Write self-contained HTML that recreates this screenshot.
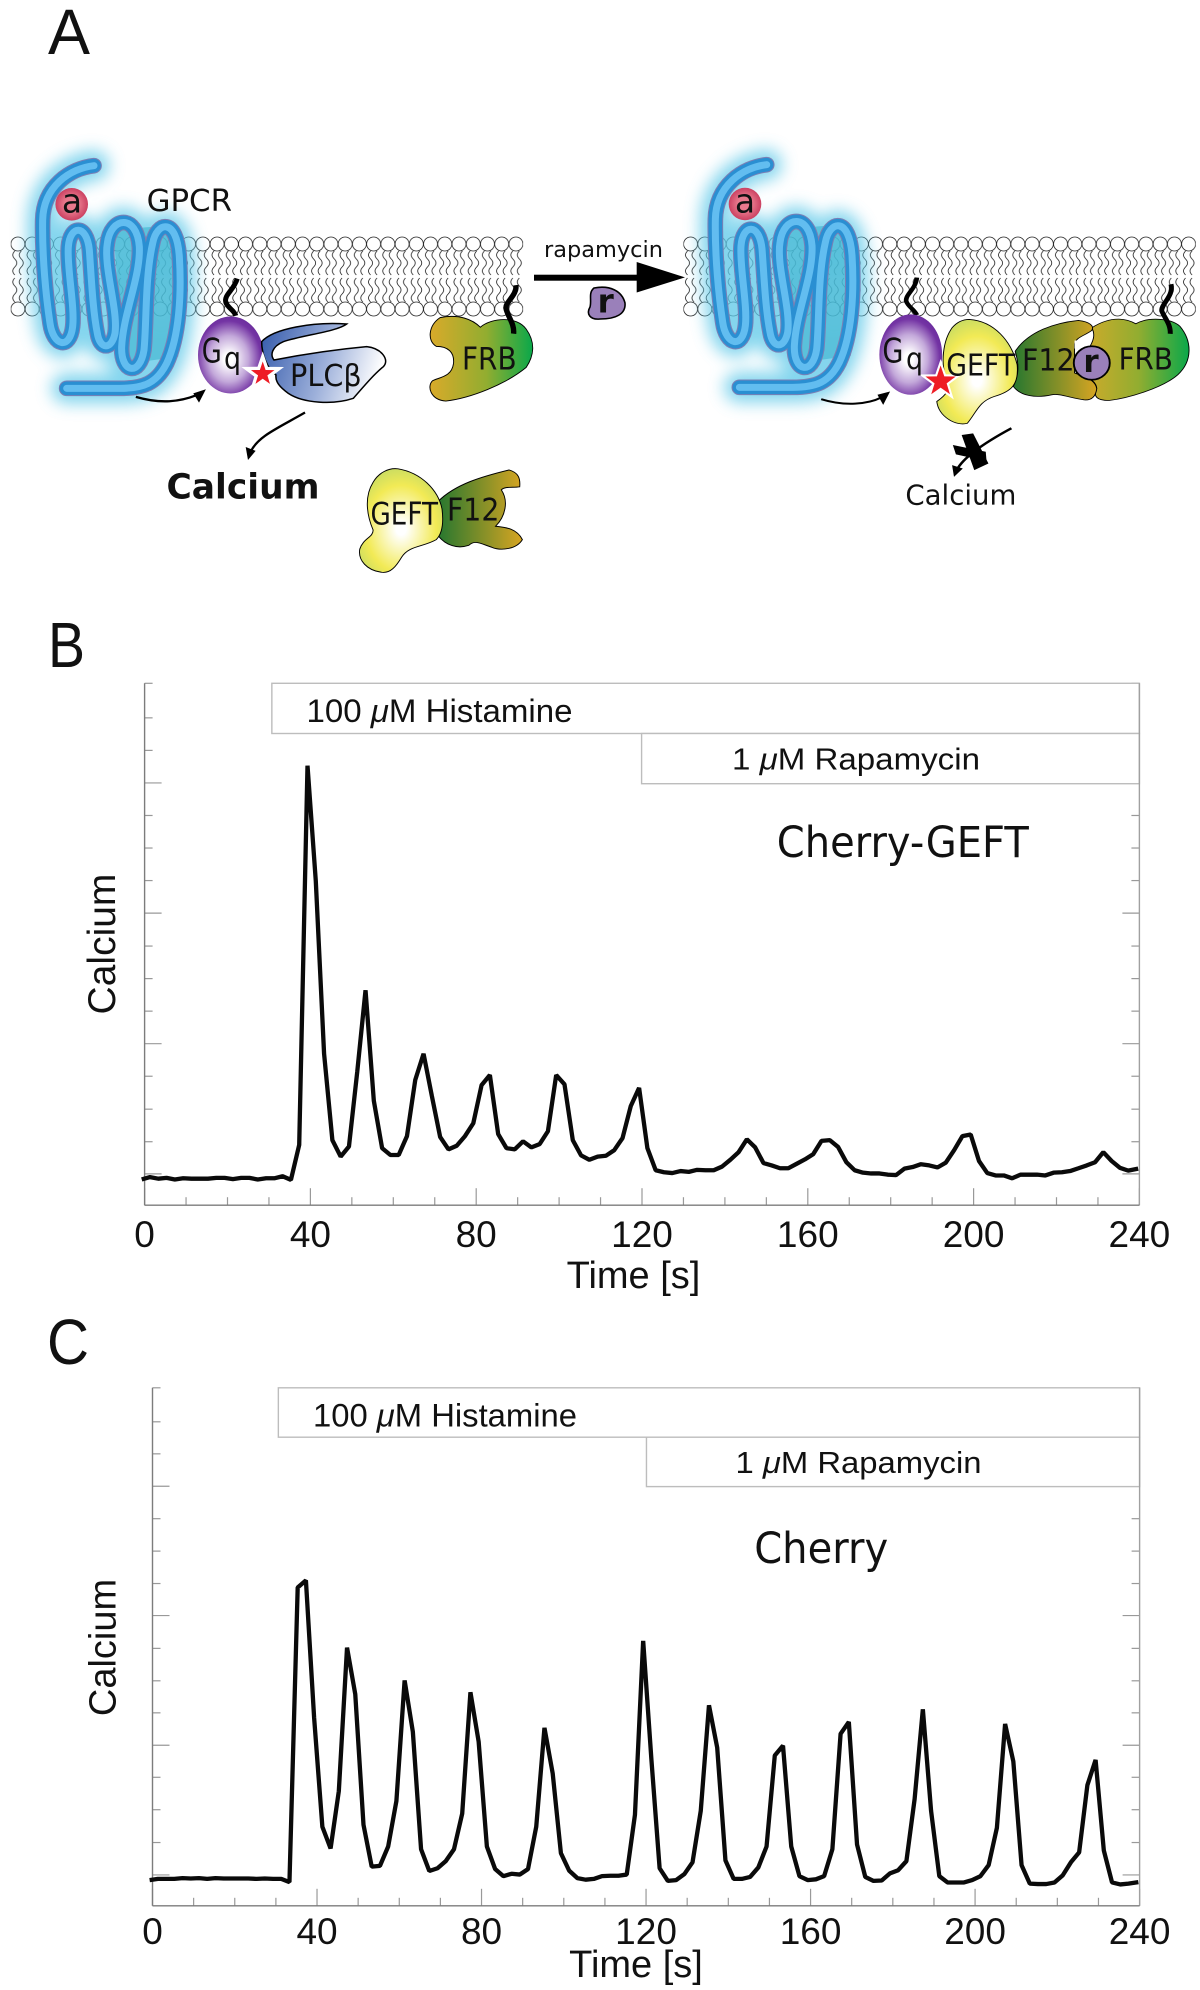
<!DOCTYPE html>
<html lang="en">
<head>
<meta charset="utf-8">
<title>Calcium signalling figure</title>
<style>
html,body{margin:0;padding:0;background:#fff;}
svg{display:block;}
text{fill:#111;}
.sans{font-family:"Liberation Sans",sans-serif;}
.dj{font-family:"DejaVu Sans","Liberation Sans",sans-serif;}
</style>
</head>
<body>
<svg id="figure" xmlns="http://www.w3.org/2000/svg" width="1200" height="1990" viewBox="0 0 1200 1990">
<defs>
  <g id="lipidTile">
    <circle cx="7.1" cy="8" r="7" fill="#fff" stroke="#222" stroke-width=".8"/>
    <circle cx="7.1" cy="73" r="7" fill="#fff" stroke="#222" stroke-width=".8"/>
    <path d="M4 15q-4 4 0 8q4 4 0 8q-4 4 0 8M10.5 15q-4 4 0 8q4 4 0 8q-4 4 0 8M4 42q-4 4 0 8q4 4 0 8q-4 4 0 8M10.5 42q-4 4 0 8q4 4 0 8q-4 4 0 8" fill="none" stroke="#222" stroke-width=".8"/>
  </g>
  <pattern id="lipid" patternUnits="userSpaceOnUse" x="10.8" y="236" width="14.23" height="82"><use href="#lipidTile"/></pattern>
  <pattern id="lipidR" patternUnits="userSpaceOnUse" x="683.5" y="236" width="14.23" height="82"><use href="#lipidTile"/></pattern>
  <filter id="glow" x="-40%" y="-40%" width="180%" height="180%"><feGaussianBlur stdDeviation="24"/></filter>
  <radialGradient id="gqFill" cx=".47" cy=".55" r=".6"><stop offset=".12" stop-color="#fff"/><stop offset=".5" stop-color="#c3a8da"/><stop offset=".82" stop-color="#7434a4"/><stop offset="1" stop-color="#672a9b"/></radialGradient>
  <linearGradient id="plcFill" x1="0" x2="1" y1=".2" y2=".4"><stop offset="0" stop-color="#3a5fae"/><stop offset=".55" stop-color="#9db0da"/><stop offset="1" stop-color="#fff"/></linearGradient>
  <linearGradient id="frbFill" x1="0" x2="1" y1="0" y2="0"><stop offset="0" stop-color="#d9aa2a"/><stop offset=".55" stop-color="#92ad30"/><stop offset="1" stop-color="#0aa84a"/></linearGradient>
  <linearGradient id="f12Fill" x1="0" x2="1" y1="0" y2="0"><stop offset="0" stop-color="#27772f"/><stop offset="1" stop-color="#d7a522"/></linearGradient>
  <radialGradient id="geftFill" cx=".5" cy=".58" r=".6"><stop offset=".1" stop-color="#fff"/><stop offset=".7" stop-color="#f2ea55"/><stop offset="1" stop-color="#c9dc62"/></radialGradient>
  <radialGradient id="ballFill" cx=".5" cy=".5" r=".55"><stop offset=".4" stop-color="#e8788c"/><stop offset="1" stop-color="#c6375a"/></radialGradient>
  <path id="gpcrTube" fill="none" stroke-linecap="round" d="M222,47 C150,55 70,110 68,210 C66,320 78,440 90,520 C100,590 150,600 158,530 C165,470 140,350 145,290 C150,225 200,220 208,300 C214,380 218,480 232,550 C240,600 275,600 285,550 C295,480 250,350 262,280 C272,200 350,190 358,290 C362,380 310,490 305,590 C302,670 360,680 372,600 C380,520 375,380 398,280 C410,215 470,200 478,320 C485,430 478,560 440,640 C410,700 370,715 300,715 L140,715"/>
  <g id="gpcrShape">
    <use href="#gpcrTube" stroke="#5cc8e8" stroke-width="92" filter="url(#glow)" opacity=".75"/>
    <polygon points="280,240 465,225 475,620 330,640 300,500" fill="#3eb4cf" opacity=".6"/>
    <use href="#gpcrTube" stroke="#7b7fb5" stroke-width="47"/>
    <use href="#gpcrTube" stroke="#2a8fd2" stroke-width="41"/>
    <use href="#gpcrTube" stroke="#62bdf0" stroke-width="21"/>
  </g>
</defs>

<text class="sans" x="48" y="54" font-size="64" textLength="42" lengthAdjust="spacingAndGlyphs">A</text>
<text class="sans" x="48" y="667" font-size="64" textLength="37" lengthAdjust="spacingAndGlyphs">B</text>
<text class="sans" x="47" y="1364" font-size="64" textLength="42" lengthAdjust="spacingAndGlyphs">C</text>

<g>
  <rect x="10.8" y="236" width="512.3" height="82" fill="url(#lipid)"/>
  <g transform="translate(20,150) scale(.33333)">
    <use href="#gpcrShape"/>
  </g>
  <circle cx="71.7" cy="204.3" r="16.3" fill="url(#ballFill)"/>
  <g transform="scale(.3827)">
    <path d="M620,728 C610,760 585,770 590,790 C595,805 612,810 616,825" fill="none" stroke="#000" stroke-width="13"/>
  </g>
  <ellipse cx="230.7" cy="355" rx="32.7" ry="38.5" fill="url(#gqFill)"/>
  <g transform="translate(190,300) scale(.33333)">
    <path d="M215,125 C250,85 370,65 470,72 C440,95 340,105 280,125 C245,140 240,165 252,180 C330,165 420,150 530,140 C575,145 600,180 580,200 C550,225 525,255 490,295 C430,315 340,310 295,280 C270,262 255,245 258,225 C230,205 215,160 215,125Z" fill="url(#plcFill)" stroke="#000" stroke-width="4.5"/>
  </g>
  <g transform="scale(.3827)">
    <polygon transform="translate(686.5,977) scale(.85)" points="0,-38 8.8,-12.1 36.1,-11.7 14.3,4.6 22.3,30.7 0,15 -22.3,30.7 -14.3,4.6 -36.1,-11.7 -8.8,-12.1" fill="#ee1c25" stroke="#fff" stroke-width="20" paint-order="stroke"/>
    <path d="M355,1037 C420,1056 470,1050 515,1032" fill="none" stroke="#000" stroke-width="6"/>
    <polygon points="538,1017 505,1028 520,1052" fill="#000"/>
    <path d="M797,1078 C720,1122 675,1140 655,1180" fill="none" stroke="#000" stroke-width="6"/>
    <polygon points="648,1202 642,1168 668,1178" fill="#000"/>
    <path d="M1150,830 C1200,820 1235,835 1255,855 C1285,830 1350,825 1375,860 C1400,895 1395,930 1375,960 C1320,1005 1230,1040 1165,1048 C1125,1045 1115,1010 1130,995 C1150,985 1180,985 1185,950 C1188,920 1170,905 1140,905 C1115,890 1120,850 1150,830Z" fill="url(#frbFill)" stroke="#000" stroke-width="2.5"/>
    <path d="M1348,745 C1352,770 1320,790 1322,805 C1325,825 1345,845 1342,872" fill="none" stroke="#000" stroke-width="14"/>
    <path d="M1145,1310 C1190,1265 1260,1245 1330,1228 C1355,1235 1360,1250 1358,1272 C1340,1275 1320,1270 1310,1280 C1330,1310 1320,1350 1295,1375 C1320,1378 1350,1380 1365,1410 C1350,1435 1310,1440 1285,1430 C1255,1420 1240,1410 1225,1425 C1195,1435 1165,1425 1145,1400Z" fill="url(#f12Fill)" stroke="#000" stroke-width="2.5"/>
    <path d="M1040,1225 C1100,1235 1145,1280 1155,1330 C1160,1370 1155,1395 1140,1410 C1105,1430 1070,1425 1050,1455 C1035,1480 1020,1500 995,1495 C960,1490 935,1465 940,1435 C950,1405 975,1405 975,1385 C960,1350 950,1300 975,1260 C990,1235 1015,1222 1040,1225Z" fill="url(#geftFill)" stroke="#000" stroke-width="2.5"/>
  </g>
  <text class="dj" x="146.6" y="211" font-size="30" textLength="85.4" lengthAdjust="spacingAndGlyphs">GPCR</text>
  <text class="dj" x="72" y="212.4" font-size="33" text-anchor="middle">a</text>
  <text class="dj" x="201.7" y="362.7" font-size="34" textLength="20" lengthAdjust="spacingAndGlyphs">G</text>
  <text class="dj" x="224" y="368.5" font-size="30" textLength="17" lengthAdjust="spacingAndGlyphs">q</text>
  <text class="dj" x="290" y="386" font-size="30" textLength="71.7" lengthAdjust="spacingAndGlyphs">PLCβ</text>
  <text class="dj" x="166.5" y="498.3" font-size="35" font-weight="bold" textLength="153" lengthAdjust="spacingAndGlyphs">Calcium</text>
  <text class="dj" x="462" y="369.3" font-size="31" textLength="54.6" lengthAdjust="spacingAndGlyphs">FRB</text>
  <text class="dj" x="370.5" y="524.3" font-size="31" textLength="67.5" lengthAdjust="spacingAndGlyphs">GEFT</text>
  <text class="dj" x="447" y="520.5" font-size="31" textLength="52.4" lengthAdjust="spacingAndGlyphs">F12</text>
</g>

<g>
  <text class="dj" x="544" y="257" font-size="22" textLength="119" lengthAdjust="spacingAndGlyphs">rapamycin</text>
  <rect x="534" y="274.7" width="105" height="6" fill="#000"/>
  <polygon points="636.7,262 685,277.4 636.7,292.5" fill="#000"/>
  <path d="M594,288 C610,285 622,291 625,303 C626,314 616,319 600,319 C590,320 586,314 590,307 C592,300 588,293 594,288Z" fill="#9a80ba" stroke="#000" stroke-width="1.6"/>
  <text class="dj" x="605.7" y="312.7" font-size="33" font-weight="bold" text-anchor="middle">r</text>
</g>

<g>
  <rect x="683.5" y="236" width="512.3" height="82" fill="url(#lipidR)"/>
  <g transform="translate(692.7,149) scale(.33333)">
    <use href="#gpcrShape"/>
  </g>
  <circle cx="745" cy="204" r="16.3" fill="url(#ballFill)"/>
  <g transform="translate(600,100) scale(.3827,.335)">
    <path d="M828,530 C825,565 798,580 800,600 C805,618 822,625 828,642" fill="none" stroke="#000" stroke-width="12"/>
    <ellipse cx="812" cy="760" rx="82" ry="120" fill="url(#gqFill)"/>
    <path d="M1285,680 C1340,640 1380,655 1400,668 C1430,648 1490,650 1515,675 C1548,720 1548,780 1510,820 C1470,860 1380,890 1330,897 C1298,897 1288,885 1298,860 C1295,835 1270,825 1245,815 L1275,745 C1290,720 1295,700 1285,680Z" fill="url(#frbFill)" stroke="#000" stroke-width="2.5"/>
    <path d="M1085,750 C1120,690 1190,665 1250,658 C1280,662 1292,675 1285,688 C1268,703 1242,708 1240,730 L1240,815 C1265,825 1295,835 1298,862 C1295,885 1285,897 1265,895 C1230,890 1200,875 1180,880 C1140,890 1100,885 1080,855 C1095,820 1095,790 1085,750Z" fill="url(#f12Fill)" stroke="#000" stroke-width="2.5"/>
    <rect x="1240" y="718" width="40" height="24" fill="#fff"/>
    <path d="M965,655 C1030,660 1075,720 1090,790 C1095,850 1075,870 1030,885 C990,900 985,930 960,965 C930,975 885,945 880,900 C905,880 920,860 905,830 C890,790 895,720 920,680 C935,660 950,655 965,655Z" fill="url(#geftFill)" stroke="#000" stroke-width="2.5"/>
    <ellipse cx="1285" cy="785" rx="47" ry="50" fill="#9a80ba" stroke="#000" stroke-width="5"/>
    <path d="M1492,550 C1500,585 1465,610 1468,630 C1475,650 1492,670 1490,698" fill="none" stroke="#000" stroke-width="13"/>
    <polygon transform="translate(890,840) scale(1.1,1.25)" points="0,-38 8.8,-12.1 36.1,-11.7 14.3,4.6 22.3,30.7 0,15 -22.3,30.7 -14.3,4.6 -36.1,-11.7 -8.8,-12.1" fill="#ee1c25" stroke="#fff" stroke-width="10" paint-order="stroke"/>
    <path d="M578,893 C640,915 700,908 735,888" fill="none" stroke="#000" stroke-width="6"/>
    <polygon points="758,870 725,880 740,910" fill="#000"/>
    <path d="M1075,980 C1010,1020 950,1065 932,1105" fill="none" stroke="#000" stroke-width="7"/>
    <polygon points="925,1125 920,1090 948,1100" fill="#000"/>
    <polygon points="945,1000 975,995 1015,1085 978,1105" fill="#000"/>
    <polygon points="922,1030 1008,1050 1010,1078 930,1058" fill="#000"/>
  </g>
  <text class="dj" x="745" y="212.4" font-size="33" text-anchor="middle">a</text>
  <text class="dj" x="882.4" y="362.7" font-size="34" textLength="21" lengthAdjust="spacingAndGlyphs">G</text>
  <text class="dj" x="906" y="369" font-size="30" textLength="17" lengthAdjust="spacingAndGlyphs">q</text>
  <text class="dj" x="946.3" y="375.4" font-size="30" textLength="68.9" lengthAdjust="spacingAndGlyphs">GEFT</text>
  <text class="dj" x="1022" y="370.7" font-size="30" textLength="52.6" lengthAdjust="spacingAndGlyphs">F12</text>
  <text class="dj" x="1091" y="372" font-size="31" font-weight="bold" text-anchor="middle">r</text>
  <text class="dj" x="1118.6" y="369.7" font-size="30" textLength="54.3" lengthAdjust="spacingAndGlyphs">FRB</text>
  <text class="dj" x="905.4" y="504.7" font-size="27.5" textLength="111" lengthAdjust="spacingAndGlyphs">Calcium</text>
</g>

<g id="chart-b">
  <g id="chart-b-marks"></g>
  <text class="sans" x="306.5" y="722" font-size="32" textLength="266" lengthAdjust="spacingAndGlyphs">100 <tspan font-style="italic">μ</tspan>M Histamine</text>
  <text class="sans" x="732" y="769.6" font-size="31" textLength="248" lengthAdjust="spacingAndGlyphs">1 <tspan font-style="italic">μ</tspan>M Rapamycin</text>
  <text class="dj" x="776.8" y="856.8" font-size="43" textLength="252" lengthAdjust="spacingAndGlyphs">Cherry-GEFT</text>
  <text class="sans" transform="translate(115,944) rotate(-90)" font-size="39" text-anchor="middle">Calcium</text>
  <text class="sans" x="633.5" y="1288" font-size="38" text-anchor="middle">Time [s]</text>
</g>

<g id="chart-c">
  <g id="chart-c-marks"></g>
  <text class="sans" x="313" y="1426.5" font-size="32" textLength="264" lengthAdjust="spacingAndGlyphs">100 <tspan font-style="italic">μ</tspan>M Histamine</text>
  <text class="sans" x="735.5" y="1472.8" font-size="31" textLength="246" lengthAdjust="spacingAndGlyphs">1 <tspan font-style="italic">μ</tspan>M Rapamycin</text>
  <text class="dj" x="754.2" y="1563" font-size="43" textLength="134" lengthAdjust="spacingAndGlyphs">Cherry</text>
  <text class="sans" transform="translate(115.4,1647.5) rotate(-90)" font-size="38" text-anchor="middle">Calcium</text>
  <text class="sans" x="636" y="1977" font-size="38" text-anchor="middle">Time [s]</text>
</g>

<script>
const sampleTimes = [
  -0.7,1.3,3.3,5.3,7.3,9.3,11.3,13.3,15.3,17.3,
  19.3,21.3,23.3,25.3,27.3,29.3,31.3,33.3,35.3,37.3,
  39.3,41.3,43.3,45.3,47.3,49.3,51.3,53.3,55.3,57.3,
  59.3,61.3,63.3,65.3,67.3,69.3,71.3,73.3,75.3,77.3,
  79.3,81.3,83.3,85.3,87.3,89.3,91.3,93.3,95.3,97.3,
  99.3,101.3,103.3,105.3,107.3,109.3,111.3,113.3,115.3,117.3,
  119.3,121.3,123.3,125.3,127.3,129.3,131.3,133.3,135.3,137.3,
  139.3,141.3,143.3,145.3,147.3,149.3,151.3,153.3,155.3,157.3,
  159.3,161.3,163.3,165.3,167.3,169.3,171.3,173.3,175.3,177.3,
  179.3,181.3,183.3,185.3,187.3,189.3,191.3,193.3,195.3,197.3,
  199.3,201.3,203.3,205.3,207.3,209.3,211.3,213.3,215.3,217.3,
  219.3,221.3,223.3,225.3,227.3,229.3,231.3,233.3,235.3,237.3,
  239.7
];
const calciumCherryGeft = [
  64,70,66,68,64,67,66,66,66,68,
  68,65,68,68,64,67,67,72,63,150,
  1094,807,377,162,121,146,332,535,260,142,
  125,125,172,312,377,272,170,139,148,172,
  204,299,324,177,142,139,159,144,152,184,
  324,301,162,124,113,121,123,137,167,247,
  292,142,87,82,80,85,83,88,87,87,
  96,113,132,164,144,105,99,92,92,103,
  114,127,160,162,145,107,87,81,79,79,
  76,75,91,95,102,99,94,106,137,172,
  176,110,80,74,74,67,76,76,76,74,
  81,82,85,92,99,107,132,110,93,86,
  91
];
const calciumCherry = [
  65,68,68,68,70,69,70,68,70,69,
  69,69,69,68,69,68,68,60,805,823,
  475,200,145,290,653,535,205,99,101,150,
  265,570,440,143,88,95,113,143,233,540,
  415,150,93,75,81,79,93,200,450,335,
  133,89,70,66,68,75,76,76,79,230,
  670,370,95,63,65,80,110,240,507,400,
  115,68,68,73,97,150,380,405,150,75,
  65,67,75,143,435,465,155,73,63,64,
  82,90,113,270,497,240,75,59,59,59,
  65,75,103,197,460,365,103,56,55,55,
  59,77,110,135,305,369,140,59,54,56,
  60
];
const xTickValues = [0,10,20,30,40,50,60,70,80,90,100,110,120,130,140,150,160,170,180,190,200,210,220,230,240];
const xLabelValues = [0,40,80,120,160,200,240];
const yMinorTicksB = [78,158,239,321,402,483,564,645,727,808,889,970,1051,1132,1213,1299];
const yMajorTicksB = [78,402,727,1051];
const yMinorTicksC = [78,160,243,325,406,488,569,651,734,815,897,979,1061,1143,1224,1310];
const yMajorTicksC = [78,406,734,1061];
const histamineStartB = 30.7;
const rapamycinStartB = 119.9;
const histamineStartC = 30.6;
const rapamycinStartC = 120.1;

const NS = 'http://www.w3.org/2000/svg';
function makeEl(parent, tag, attrs) {
  const el = document.createElementNS(NS, tag);
  for (const k in attrs) el.setAttribute(k, attrs[k]);
  parent.appendChild(el);
  return el;
}
function linearAxis(d0, d1, r0, r1) {
  return function (v) { return r0 + (v - d0) * (r1 - r0) / (d1 - d0); };
}
function drawChart(rootId, frame, times, values, yMinor, yMajor, histStart, rapStart) {
  const root = document.getElementById(rootId);
  const x = linearAxis(0, 240, frame.left, frame.right);
  const y = linearAxis(0, frame.yMax, frame.bottom, frame.top);
  const axisColor = '#7c7c7c';
  const tickColor = '#999';

  xTickValues.forEach(function (t) {
    const isMajor = t % 40 === 0;
    const len = isMajor ? 17 : 8;
    const tick = makeEl(root, 'line', {x1: x(t), x2: x(t), y1: frame.bottom, y2: frame.bottom - len, stroke: tickColor, 'stroke-width': 1.2});
    
    
  });
  yMinor.forEach(function (v) {
    const isMajor = yMajor.indexOf(v) >= 0;
    const len = isMajor ? 17 : 8;
    const leftTick = makeEl(root, 'line', {x1: frame.left, x2: frame.left + len, y1: y(v), y2: y(v), stroke: tickColor, 'stroke-width': 1.2});
    
    
    const rightTick = makeEl(root, 'line', {x1: frame.right, x2: frame.right - len, y1: y(v), y2: y(v), stroke: tickColor, 'stroke-width': 1.2});
    
    
  });

  const histBox = makeEl(root, 'rect', {x: x(histStart), y: frame.top, width: frame.right - x(histStart), height: frame.row, fill: '#fff', stroke: '#bdbdbd', 'stroke-width': 1.4});
  
  
  const rapBox = makeEl(root, 'rect', {x: x(rapStart), y: frame.top + frame.row, width: frame.right - x(rapStart), height: frame.row, fill: '#fff', stroke: '#bdbdbd', 'stroke-width': 1.4});
  
  

  const leftAxis = makeEl(root, 'line', {x1: frame.left, x2: frame.left, y1: frame.top, y2: frame.bottom, stroke: axisColor, 'stroke-width': 1.4});
  
  
  const rightAxis = makeEl(root, 'line', {x1: frame.right, x2: frame.right, y1: frame.top, y2: frame.bottom, stroke: '#a0a0a0', 'stroke-width': 1.4});
  
  
  const bottomAxis = makeEl(root, 'line', {x1: frame.left, x2: frame.right, y1: frame.bottom, y2: frame.bottom, stroke: axisColor, 'stroke-width': 1.4});
  
  

  const d = values.map(function (v, i) {
    return (i ? 'L' : 'M') + x(times[i]).toFixed(2) + ' ' + y(v).toFixed(2);
  }).join('');
  const trace = makeEl(root, 'path', {d: d, fill: 'none', stroke: '#0a0a0a', 'stroke-width': 4.3, 'stroke-linejoin': 'bevel'});
  
  

  xLabelValues.forEach(function (t) {
    const label = makeEl(root, 'text', {x: x(t), y: frame.labelY, 'font-size': 37, 'text-anchor': 'middle', 'class': 'sans'});
    
    
    label.textContent = String(t);
  });
}
drawChart('chart-b-marks',
  {left: 144.6, right: 1139.4, top: 683.3, bottom: 1205.2, yMax: 1299, row: 50.2, labelY: 1247},
  sampleTimes, calciumCherryGeft, yMinorTicksB, yMajorTicksB, histamineStartB, rapamycinStartB);
drawChart('chart-c-marks',
  {left: 152.5, right: 1139.6, top: 1387.8, bottom: 1905.8, yMax: 1310, row: 49.4, labelY: 1944},
  sampleTimes, calciumCherry, yMinorTicksC, yMajorTicksC, histamineStartC, rapamycinStartC);
</script>
</svg>
</body>
</html>
